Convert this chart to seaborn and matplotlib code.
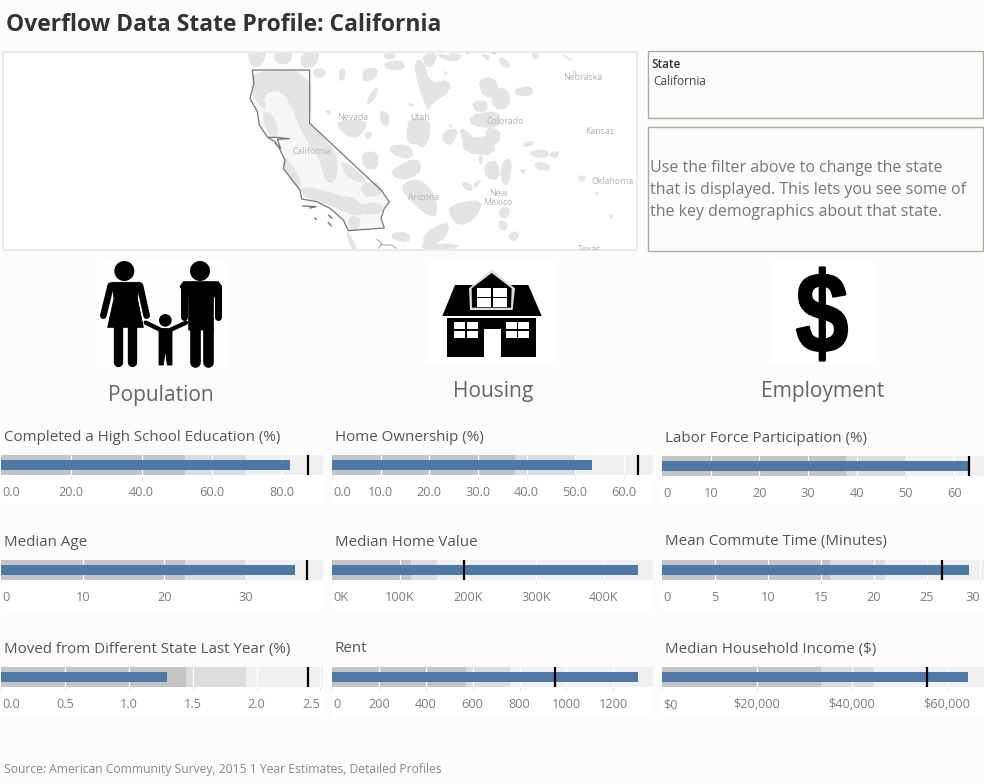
import matplotlib
matplotlib.use("Agg")
import matplotlib.pyplot as plt
from matplotlib.patches import Polygon, Rectangle, Circle, PathPatch
from matplotlib.textpath import TextPath
from matplotlib.font_manager import FontProperties
from matplotlib.transforms import Affine2D, ScaledTranslation
import seaborn as sns

sns.set_theme(style="white")
plt.rcParams['font.family'] = ['Open Sans', 'DejaVu Sans']

W, H = 984, 784
BG = '#fcfcfc'

# ---------- data ----------
metrics = ["Completed a High School Education (%)", "Median Age", "Moved from Different State Last Year (%)",
           "Home Ownership (%)", "Median Home Value", "Rent",
           "Labor Force Participation (%)", "Mean Commute Time (Minutes)", "Median Household Income ($)"]
state_values = [82.2, 36.0, 1.30, 53.5, 450000, 1305, 63.0, 29.0, 64600]
us_markers = [87.3, 37.5, 2.40, 63.0, 193500, 950, 63.0, 26.4, 55800]
band_low = [52.4, 22.5, 1.445, 37.7, 116000, 571, 37.8, 15.85, 33500]
band_mid = [69.7, 30.0, 1.92, 49.9, 154000, 759, 50.0, 21.1, 44600]
axis_max = [91.6, 39.4, 2.52, 66.0, 472000, 1369, 66.1, 30.4, 67900]
tick_values = [[0, 20, 40, 60, 80], [0, 10, 20, 30], [0, .5, 1, 1.5, 2, 2.5],
               [0, 10, 20, 30, 40, 50, 60], [0, 100000, 200000, 300000, 400000], [0, 200, 400, 600, 800, 1000, 1200],
               [0, 10, 20, 30, 40, 50, 60], [0, 5, 10, 15, 20, 25, 30], [0, 20000, 40000, 60000]]
tick_labels = [['0.0', '20.0', '40.0', '60.0', '80.0'], ['0', '10', '20', '30'],
               ['0.0', '0.5', '1.0', '1.5', '2.0', '2.5'],
               ['0.0', '10.0', '20.0', '30.0', '40.0', '50.0', '60.0'], ['0K', '100K', '200K', '300K', '400K'],
               ['0', '200', '400', '600', '800', '1000', '1200'],
               ['0', '10', '20', '30', '40', '50', '60'], ['0', '5', '10', '15', '20', '25', '30'],
               ['$0', '$20,000', '$40,000', '$60,000']]
sections = ["Population", "Housing", "Employment"]
state_labels = ["Nebraska", "Kansas", "Oklahoma", "Colorado", "New\nMexico", "Utah", "Nevada", "California",
                "Arizona", "Wyoming", "Texas"]

# map geometry in 3x crop units
california_outline = [(757, 210), (929, 210), (929, 370), (1145, 572), (1168, 606), (1153, 625), (1143, 655),
                      (1153, 684), (1045, 692), (1030, 660), (990, 625), (950, 605), (905, 597), (900, 570),
                      (850, 505), (855, 480), (838, 445), (825, 425), (803, 412), (778, 375), (772, 335),
                      (750, 295), (762, 250)]
land_west = [
    [(755, 210), (932, 210), (932, 370), (900, 345), (870, 320), (860, 290), (830, 270), (790, 285), (800, 330), (780, 320), (755, 280)],
    [(870, 300), (925, 360), (965, 410), (1005, 450), (1015, 500), (1005, 550), (975, 545), (960, 480), (925, 430), (890, 365)],
    [(785, 335), (815, 340), (838, 390), (825, 415), (800, 400)],
    [(850, 465), (885, 505), (905, 550), (890, 570), (850, 510)],
    [(900, 560), (950, 565), (1010, 585), (1075, 595), (1095, 645), (1050, 645), (990, 615), (915, 595)],
    [(1080, 555), (1130, 540), (1150, 575), (1130, 590), (1090, 590)],
    [(1070, 615), (1130, 605), (1155, 625), (1130, 645), (1080, 640)],
    [(1045, 645), (1085, 655), (1075, 690), (1045, 695)],
    [(1020, 480), (1065, 505), (1105, 550), (1070, 545), (1035, 525)],
    [(740, 150), (800, 150), (790, 195), (755, 205)], [(820, 150), (880, 150), (870, 195), (825, 190)],
    [(900, 160), (960, 150), (950, 200), (905, 205)],
    [(940, 203), (980, 208), (970, 235), (940, 230)],
    [(1045, 692), (1075, 750), (1055, 750), (1038, 700)],
    [(1010, 362), (1095, 357), (1100, 388), (1060, 420), (1015, 388)],
    [(1135, 255), (1130, 292), (1100, 320), (1105, 285)],
    [(1085, 208), (1135, 202), (1130, 232), (1090, 250)],
    [(1018, 205), (1038, 205), (1033, 243), (1015, 240)],
    [(1150, 188), (1205, 178), (1220, 208), (1160, 210)],
    [(1140, 328), (1170, 342), (1165, 384), (1140, 368)],
    [(1090, 398), (1120, 396), (1105, 425)],
    [(1085, 455), (1135, 455), (1135, 510), (1090, 505)],
    [(975, 326), (998, 336), (985, 348)],
    [(1165, 437), (1220, 432), (1245, 460), (1225, 480), (1175, 463)],
    [(1170, 510), (1250, 470), (1270, 510), (1225, 540), (1185, 535)],
    [(1240, 185), (1270, 178), (1290, 250), (1345, 238), (1355, 270), (1295, 312), (1285, 335), (1275, 312), (1255, 262)],
    [(1210, 548), (1255, 535), (1295, 568), (1315, 620), (1305, 655), (1265, 635), (1235, 605), (1205, 572)],
    [(1220, 355), (1290, 355), (1290, 412), (1272, 445), (1245, 432), (1228, 400)],
    [(1175, 697), (1230, 697), (1230, 730), (1175, 718)],
    [(1270, 700), (1340, 662), (1350, 690), (1295, 750), (1270, 750)],
    [(1150, 160), (1190, 160), (1185, 178), (1155, 178)], [(1300, 160), (1350, 165), (1385, 180), (1345, 185)],
]
land_east = [
    [(232, 105), (280, 92), (305, 150), (250, 160)], [(270, 130), (328, 130), (330, 190), (280, 195)],
    [(215, 168), (262, 165), (262, 200), (222, 200)], [(205, 210), (300, 195), (302, 250), (215, 245)],
    [(255, 245), (305, 255), (295, 300), (260, 295)], [(183, 283), (280, 270), (287, 332), (195, 325)],
    [(345, 128), (398, 122), (398, 153), (345, 153)], [(368, 293), (403, 287), (398, 302), (372, 308)],
    [(388, 318), (442, 312), (448, 338), (398, 338)], [(450, 320), (480, 318), (472, 338), (452, 338)],
    [(403, 348), (452, 358), (452, 378), (408, 375)], [(533, 391), (560, 393), (552, 412), (536, 408)],
    [(250, 355), (295, 345), (300, 405), (258, 403)], [(305, 345), (338, 340), (328, 425), (300, 410)],
    [(356, 372), (380, 372), (372, 392)], [(187, 408), (218, 418), (218, 442), (187, 428)], [(218, 413), (248, 402), (226, 433)],
    [(148, 478), (252, 462), (228, 522), (175, 545), (148, 512)], [(298, 487), (333, 487), (322, 523), (298, 518)],
    [(296, 523), (324, 533), (318, 558), (296, 553)], [(338, 556), (362, 568), (342, 593), (323, 576)],
    [(130, 535), (148, 558), (122, 593), (88, 582)], [(0, 555), (32, 578), (0, 590)],
    [(65, 596), (182, 596), (162, 615), (68, 615)], [(178, 238), (232, 288), (188, 302)],
    [(128, 258), (178, 248), (157, 303), (128, 292)], [(393, 22), (423, 28), (402, 48)],
    [(483, 22), (528, 50), (498, 43)], [(298, 32), (332, 53), (328, 73), (298, 58)], [(138, 22), (188, 28), (178, 48)],
    [(518, 72), (533, 84), (518, 88)], [(624, 508), (642, 510), (634, 525)], [(584, 440), (600, 443), (590, 455)],
    [(20, 238), (60, 232), (55, 300), (20, 295)], [(66, 28), (116, 22), (98, 68), (74, 63)],
    [(240, 22), (275, 35), (260, 50)], [(130, 75), (145, 85), (135, 92)], [(20, 175), (42, 175), (38, 188)],
    [(145, 235), (160, 240), (150, 252)], [(235, 330), (250, 332), (248, 358), (238, 358)],
]


def chaikin(points, rounds=1):
    """Round a traced outline's corners."""
    for _ in range(rounds):
        out = []
        for k, (x, y) in enumerate(points):
            nx, ny = points[(k + 1) % len(points)]
            out += [(0.75 * x + 0.25 * nx, 0.75 * y + 0.25 * ny), (0.25 * x + 0.75 * nx, 0.25 * y + 0.75 * ny)]
        points = out
    return points


# ---------- helpers ----------
fig = plt.figure(figsize=(W / 100, H / 100), dpi=100, facecolor=BG)


def px_axes(x0, y0, x1, y1, **kw):
    return fig.add_axes([x0 / W, 1 - y1 / H, (x1 - x0) / W, (y1 - y0) / H], **kw)


canvas = px_axes(0, 0, W, H, zorder=0)
canvas.set_xlim(0, W)
canvas.set_ylim(H, 0)
canvas.axis('off')


def crop_pts(points, ox, oy):
    return [(ox + x / 3, oy + y / 3) for x, y in points]


# ---------- title ----------
canvas.text(6, 25, "Overflow Data State Profile: California", fontsize=16.5, fontweight='bold', color='#333333',
            va='center', ha='left')

# ---------- map ----------
map_ax = px_axes(3, 52, 637, 250, zorder=1)
map_ax.set_xlim(3, 637)
map_ax.set_ylim(250, 52)
map_ax.set_xticks([])
map_ax.set_yticks([])
map_ax.set_facecolor('white')
for s in map_ax.spines.values():
    s.set_color('#ebebeb')
    s.set_linewidth(1.5)
ca_pts = crop_pts(california_outline, 0, 0)
map_ax.add_patch(Polygon(ca_pts, closed=True, fc='#f7f7f7', ec='none', zorder=1))
for shape in land_west:
    map_ax.add_patch(Polygon(crop_pts(chaikin(shape), 0, 0), closed=True, fc='#e3e5e4', ec='none', zorder=2))
for shape in land_east:
    map_ax.add_patch(Polygon(crop_pts(chaikin(shape), 400, 45), closed=True, fc='#e3e5e4', ec='none', zorder=2))
map_ax.add_patch(Polygon(ca_pts, closed=True, fc='none', ec='#777777', lw=0.9, zorder=3))
bay = crop_pts([(803, 412), (828, 412), (868, 416), (832, 418), (842, 445), (825, 430)], 0, 0)
map_ax.plot(*zip(*bay), color='#777777', lw=0.9, zorder=3)
for isl in [[(908, 618), (948, 620), (930, 624)], [(944, 654), (950, 658)], [(985, 645), (996, 655)], [(984, 667), (994, 678)]]:
    map_ax.plot(*zip(*crop_pts(isl, 0, 0)), color='#777777', lw=1.0, zorder=3)
map_ax.plot(*zip(*crop_pts([(1130, 718), (1145, 730), (1135, 745)], 0, 0)), color='#999999', lw=0.6)
map_ax.plot(*zip(*crop_pts([(1140, 735), (1175, 735), (1188, 745)], 0, 0)), color='#999999', lw=0.6)
label_pos = [(583, 78), (600, 131), (613, 181), (505, 122), (498, 198), (420, 118), (353, 118), (312, 152), (424, 198),
             (478, 49), (590, 250)]
for name, (x, y) in zip(state_labels, label_pos):
    map_ax.text(x, y, name, fontsize=6.3, color='#b4b4b4', ha='center', va='center', linespacing=1.0, zorder=4, clip_on=True)

# ---------- filter and note boxes ----------
for (y0, y1) in [(51, 118), (127, 251)]:
    canvas.add_patch(Rectangle((647.5, y0), 335.5, y1 - y0, fc=BG, ec='#aeac9e', lw=1.0))
canvas.text(651, 64, "State", fontsize=8.5, color='#333333', fontweight='semibold', va='center')
canvas.text(653, 81, "California", fontsize=8.6, color='#444444', va='center')
for y, line in zip([168, 190, 212], ["Use the filter above to change the state",
                                     "that is displayed. This lets you see some of",
                                     "the key demographics about that state."]):
    canvas.text(650, y, line, fontsize=11.55, color='#777777', va='center')

# ---------- icons ----------
canvas.add_patch(Rectangle((97, 260), 130, 108, fc='#fefefe', ec='none'))
canvas.add_patch(Rectangle((426, 262), 131, 103, fc='white', ec='none'))
canvas.add_patch(Rectangle((770, 262), 105, 103, fc='white', ec='none'))


def fam_poly(pts):
    canvas.add_patch(Polygon(crop_pts(pts, 90, 255), closed=True, fc='black', ec='black', lw=0.6, joinstyle='round', zorder=3))


def fam_line(pts, crop_w):
    xs, ys = zip(*crop_pts(pts, 90, 255))
    canvas.plot(xs, ys, color='black', lw=crop_w / 3 * 0.72, solid_capstyle='round', solid_joinstyle='round', zorder=3)


def fam_head(x, y, r):
    cx, cy = crop_pts([(x, y)], 90, 255)[0]
    canvas.add_patch(Circle((cx, cy), r / 3, fc='black', ec='none', zorder=3))


fam_head(103, 48, 30)
fam_poly([(65, 82), (150, 82), (142, 130), (160, 217), (53, 217), (72, 130)])
fam_line([(62, 92), (40, 182)], 20)
fam_line([(150, 92), (170, 182)], 20)
fam_line([(85, 215), (85, 320)], 28)
fam_line([(125, 215), (125, 320)], 28)
fam_head(330, 48, 30)
fam_poly([(280, 80), (385, 80), (395, 95), (370, 130), (370, 225), (296, 225), (296, 130), (270, 95)])
fam_line([(282, 95), (282, 185)], 21)
fam_line([(384, 95), (384, 185)], 21)
fam_line([(314, 220), (314, 320)], 32)
fam_line([(353, 220), (353, 320)], 32)
fam_head(226, 196, 19)
fam_line([(167, 203), (215, 226), (238, 226), (288, 203)], 13)
fam_poly([(207, 222), (246, 222), (246, 330), (232, 330), (226, 285), (220, 330), (207, 330)])


def house(pts, color, z=3):
    canvas.add_patch(Polygon(crop_pts(pts, 420, 255), closed=True, fc=color, ec='none', zorder=z))


def house_rect(x0, y0, x1, y1, color, z=4):
    house([(x0, y0), (x1, y0), (x1, y1), (x0, y1)], color, z)


house([(105, 90), (325, 90), (365, 183), (67, 183)], 'black')
house([(147, 100), (215, 44), (285, 100), (278, 165), (150, 165)], '#dddddd', 4)
house([(155, 100), (215, 54), (275, 100), (273, 158), (156, 158)], 'black', 5)
house_rect(82, 189, 348, 306, 'black')
house_rect(193, 222, 243, 306, 'white')
for x0, x1, y0, y1 in [(103, 173, 202, 248), (258, 328, 202, 248), (170, 262, 99, 156)]:
    house_rect(x0, y0, x1, y1, 'white', 6)
    house_rect((x0 + x1) / 2 - 2, y0, (x0 + x1) / 2 + 2, y1, 'black', 7)
    house_rect(x0, (y0 + y1) / 2 - 2, x1, (y0 + y1) / 2 + 2, 'black', 7)

# the dollar icon is a picture in the reference: a bold glyph squeezed to the icon's box
glyph = TextPath((0, 0), "$", size=100, prop=FontProperties(family='Liberation Sans', weight='bold'))
gbox = glyph.get_extents()
icon_w, icon_h, icon_x, icon_y = 50, 93, 822, 314
squeeze = (Affine2D().translate(-(gbox.x0 + gbox.x1) / 2, -(gbox.y0 + gbox.y1) / 2)
           .scale(icon_w / gbox.width, -icon_h / gbox.height).translate(icon_x, icon_y))
canvas.add_patch(PathPatch(squeeze.transform_path(glyph), fc='black', ec='black', lw=1.6, joinstyle='round', zorder=3))

for name, x, y in zip(sections, [161, 493, 823], [395, 391, 391]):
    canvas.text(x, y, name, fontsize=15.1, fontweight=500, color='#666666', ha='center', va='center')

# ---------- bullet panels ----------
col_x = [(1, 323), (332, 653), (662, 984)]
row_y = [(455, 475), (560, 580), (667, 687)]
row_bottom = [504, 610, 717]
title_y = [437, 542, 649]
title_x = [4, 335, 665]
shift_px = ScaledTranslation(1.2 / 100, 0, fig.dpi_scale_trans)

for i, metric in enumerate(metrics):
    col, row = i // 3, i % 3
    x0, x1 = col_x[col]
    y0, y1 = row_y[row]
    nudge = 1 if col == 2 and row == 0 else 0
    canvas.add_patch(Rectangle((x0, y1), x1 - x0, row_bottom[row] - y1, fc='white', ec='none'))
    canvas.text(title_x[col], title_y[row] + nudge, metric, fontsize=10.9, color='#555555', va='center')
    ax = px_axes(x0, y0 + nudge, x1, y1 + nudge, zorder=2)
    ax.set_facecolor('none')
    cat = [metric]
    sns.barplot(x=[axis_max[i]], y=cat, color='#f0f0f0', saturation=1, width=1, linewidth=0, ax=ax, zorder=1)
    sns.barplot(x=[band_mid[i]], y=cat, color='#dcdcdc', saturation=1, width=1, linewidth=0, ax=ax, zorder=1.1)
    sns.barplot(x=[band_low[i]], y=cat, color='#c4c4c4', saturation=1, width=1, linewidth=0, ax=ax, zorder=1.2)
    ax.vlines(tick_values[i][1:], -0.5, 0.5, color='white', lw=0.9, zorder=1.5)
    sns.barplot(x=[state_values[i]], y=cat, color='#4e78a6', saturation=1, width=0.5, linewidth=0, ax=ax, zorder=2)
    ax.vlines([us_markers[i]], -0.5, 0.5, color='black', lw=1.6, zorder=3)
    ax.set_xlim(0, axis_max[i])
    ax.set_ylim(0.5, -0.5)
    ax.set_xlabel('')
    ax.set_ylabel('')
    ax.set_yticks([])
    ax.set_xticks(tick_values[i])
    ax.set_xticklabels(tick_labels[i])
    ax.tick_params(axis='x', bottom=True, length=3, width=0.7, color='#e8e8e8', labelsize=9.2, labelcolor='#7f7f7f', pad=5)
    labels = ax.get_xticklabels()
    labels[0].set_horizontalalignment('left')
    labels[0].set_transform(labels[0].get_transform() + shift_px)
    last_px = (tick_values[i][-1] / axis_max[i]) * (x1 - x0)
    if last_px + 14 > x1 - x0:
        labels[-1].set_horizontalalignment('right')
    sns.despine(ax=ax, left=True, bottom=True, top=True, right=True)

canvas.text(4, 769, "Source: American Community Survey, 2015 1 Year Estimates, Detailed Profiles", fontsize=8.75,
            color='#888888', va='center')

fig.savefig("out.png", dpi=100, facecolor=BG)
